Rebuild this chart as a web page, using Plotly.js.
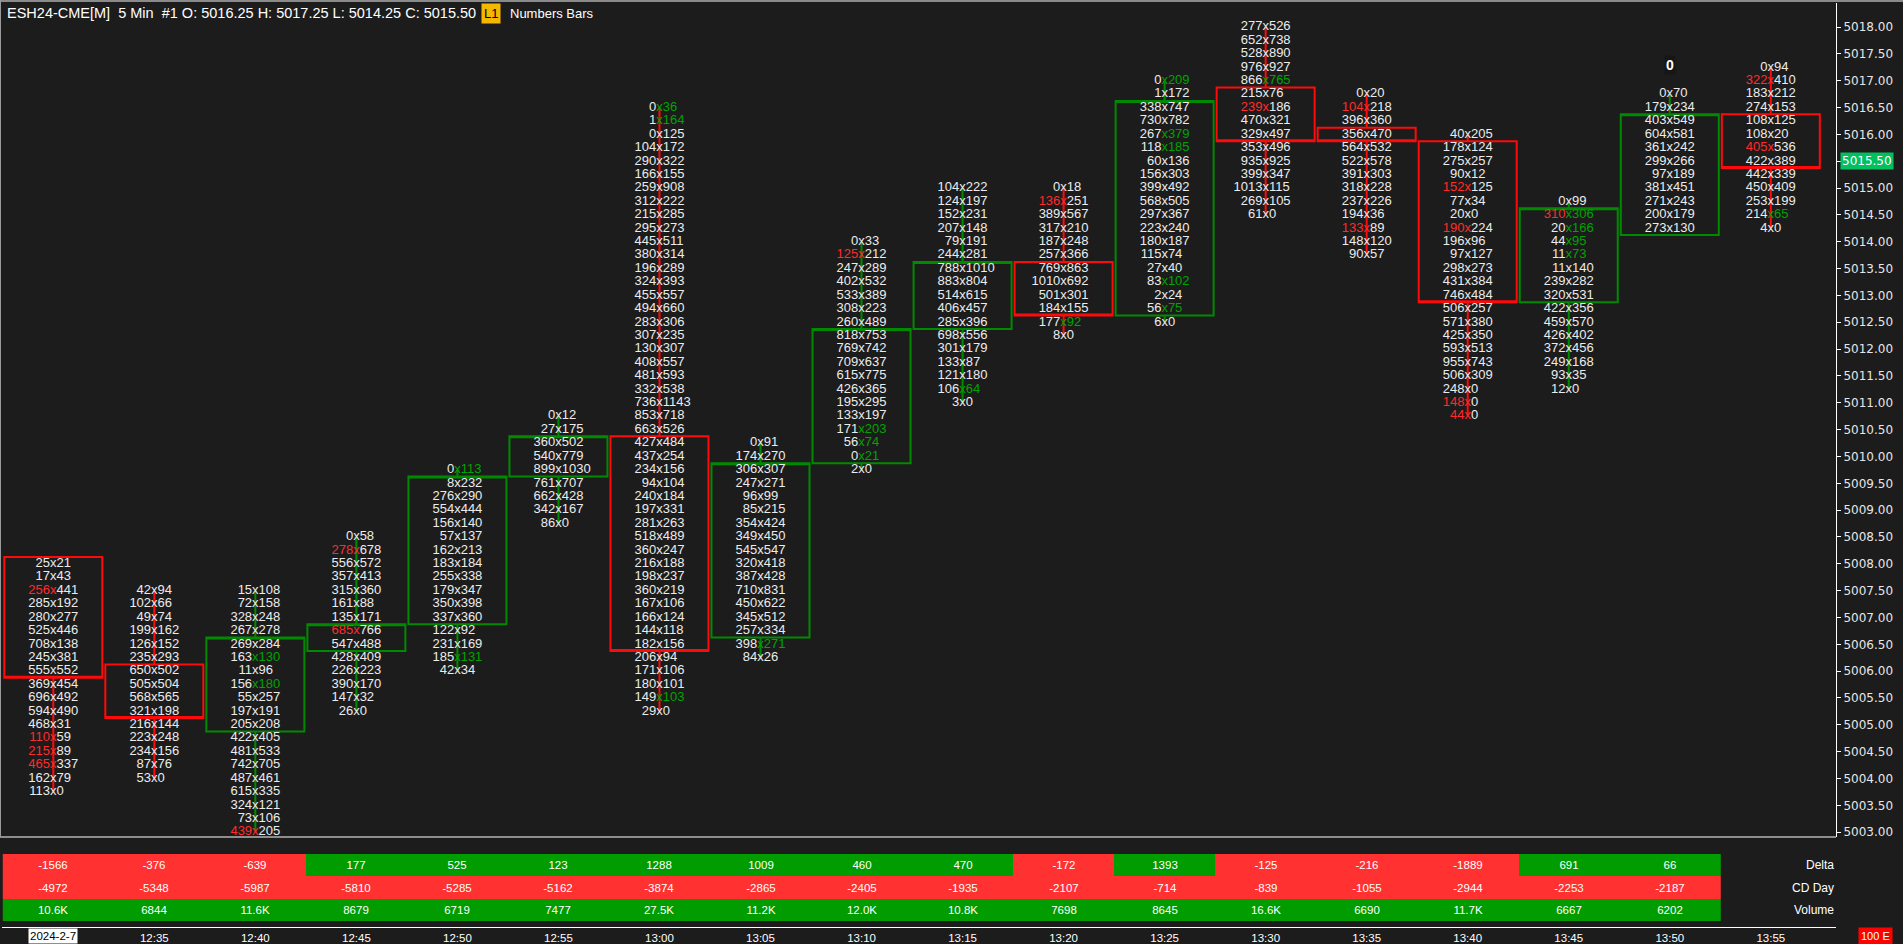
<!DOCTYPE html>
<html><head><meta charset="utf-8">
<script src="https://cdn.plot.ly/plotly-3.0.1.min.js"></script>
<style>html,body{margin:0;padding:0;background:#1c1c1c;overflow:hidden}</style>
</head><body><div id="chart" style="width:1903px;height:944px"></div>
<script>
// ---------------- DATA ----------------
const times  = ["2024-2-7","12:35","12:40","12:45","12:50","12:55","13:00","13:05","13:10","13:15","13:20","13:25","13:30","13:35","13:40","13:45","13:50","13:55"];
const opens  = [5008.00,5006.00,5005.00,5006.50,5007.00,5009.75,5010.25,5006.75,5010.00,5012.50,5013.50,5012.75,5016.75,5016.00,5015.75,5013.00,5014.25,5016.25];
const closes = [5006.00,5005.25,5006.50,5006.75,5009.50,5010.25,5006.50,5009.75,5012.25,5013.50,5012.75,5016.50,5016.00,5016.00,5013.00,5014.50,5016.25,5015.50];
const highs  = [5008.00,5007.50,5007.50,5008.50,5009.75,5010.75,5016.50,5010.25,5014.00,5015.00,5015.00,5017.00,5018.00,5016.75,5016.00,5014.75,5016.75,5017.25];
const lows   = [5003.75,5004.00,5003.00,5005.25,5006.00,5008.75,5005.25,5006.25,5009.75,5011.00,5012.25,5012.50,5014.50,5013.75,5010.75,5011.25,5014.25,5014.25];

// footprint rows, from the high down, one per 0.25 tick. flags: r = bid imbalance, g = ask imbalance, b = both
const bid0=[25,17,256,285,280,525,708,245,555,369,696,594,468,110,215,465,162,113];
const ask0=[21,43,441,192,277,446,138,381,552,454,492,490,31,59,89,337,79,0];
const flg0="..r..........rrr..";
const bid1=[42,102,49,199,126,235,650,505,568,321,216,223,234,87,53];
const ask1=[94,66,74,162,152,293,502,504,565,198,144,248,156,76,0];
const flg1="...............";
const bid2=[15,72,328,267,269,163,11,156,55,197,205,422,481,742,487,615,324,73,439];
const ask2=[108,158,248,278,284,130,96,180,257,191,208,405,533,705,461,335,121,106,205];
const flg2=".....g.g..........r";
const bid3=[0,278,556,357,315,161,135,685,547,428,226,390,147,26];
const ask3=[58,678,572,413,360,88,171,766,488,409,223,170,32,0];
const flg3=".r.....r......";
const bid4=[0,8,276,554,156,57,162,183,255,179,350,337,122,231,185,42];
const ask4=[113,232,290,444,140,137,213,184,338,347,398,360,92,169,131,34];
const flg4="g.............g.";
const bid5=[0,27,360,540,899,761,662,342,86];
const ask5=[12,175,502,779,1030,707,428,167,0];
const flg5=".........";
const bid6=[0,1,0,104,290,166,259,312,215,295,445,380,196,324,455,494,283,307,130,408,481,332,736,853,663,427,437,234,94,240,197,281,518,360,216,198,360,167,166,144,182,206,171,180,149,29];
const ask6=[36,164,125,172,322,155,908,222,285,273,511,314,289,393,557,660,306,235,307,557,593,538,1143,718,526,484,254,156,104,184,331,263,489,247,188,237,219,106,124,118,156,94,106,101,103,0];
const flg6="gg..........................................g.";
const bid7=[0,174,306,247,96,85,354,349,545,320,387,710,450,345,257,398,84];
const ask7=[91,270,307,271,99,215,424,450,547,418,428,831,622,512,334,271,26];
const flg7="...............g.";
const bid8=[0,125,247,402,533,308,260,818,769,709,615,426,195,133,171,56,0,2];
const ask8=[33,212,289,532,389,223,489,753,742,637,775,365,295,197,203,74,21,0];
const flg8=".r............ggg.";
const bid9=[104,124,152,207,79,244,788,883,514,406,285,698,301,133,121,106,3];
const ask9=[222,197,231,148,191,281,1010,804,615,457,396,556,179,87,180,64,0];
const flg9="...............g.";
const bid10=[0,136,389,317,187,257,769,1010,501,184,177,8];
const ask10=[18,251,567,210,248,366,863,692,301,155,92,0];
const flg10=".r........g.";
const bid11=[0,1,338,730,267,118,60,156,399,568,297,223,180,115,27,83,2,56,6];
const ask11=[209,172,747,782,379,185,136,303,492,505,367,240,187,74,40,102,24,75,0];
const flg11="g...gg.........g.g.";
const bid12=[277,652,528,976,866,215,239,470,329,353,935,399,1013,269,61];
const ask12=[526,738,890,927,765,76,186,321,497,496,925,347,115,105,0];
const flg12="....g.r........";
const bid13=[0,104,396,356,564,522,391,318,237,194,133,148,90];
const ask13=[20,218,360,470,532,578,303,228,226,36,89,120,57];
const flg13=".r........r..";
const bid14=[40,178,275,90,152,77,20,190,196,97,298,431,746,506,571,425,593,955,506,248,148,44];
const ask14=[205,124,257,12,125,34,0,224,96,127,273,384,484,257,380,350,513,743,309,0,0,0];
const flg14="....r..r............rr";
const bid15=[0,310,20,44,11,11,239,320,422,459,426,372,249,93,12];
const ask15=[99,306,166,95,73,140,282,531,356,570,402,456,168,35,0];
const flg15=".bggg..........";
const bid16=[0,179,403,604,361,299,97,381,271,200,273];
const ask16=[70,234,549,581,242,266,189,451,243,179,130];
const flg16="...........";
const bid17=[0,322,183,274,108,108,405,422,442,450,253,214,4];
const ask17=[94,410,212,153,125,20,536,389,339,409,199,65,0];
const flg17=".r....r....g.";

// study table
const deltaRow  = [-1566,-376,-639,177,525,123,1288,1009,460,470,-172,1393,-125,-216,-1889,691,66];
const cdDayRow  = [-4972,-5348,-5987,-5810,-5285,-5162,-3874,-2865,-2405,-1935,-2107,-714,-839,-1055,-2944,-2253,-2187];
const volumeRow = [10600,6844,11600,8679,6719,7477,27500,11200,12000,10800,7698,8645,16600,6690,11700,6667,6202];
const tableLabels = ["Volume","CD Day","Delta"];

const headerText = "ESH24-CME[M]  5 Min  #1 O: 5016.25 H: 5017.25 L: 5014.25 C: 5015.50";
const lastPrice = 5015.50;
const tick = 0.25;

// ---------------- STYLE / GEOMETRY ----------------
const W = 1903, H = 944;
const BG = '#1c1c1c';
const TXT = '#ececec', RED_TXT = '#ff2b2b', GRN_TXT = '#00a300';
const UP = '#008a00', DN = '#ff0a0a';
const CELL_RED = '#ff3131', CELL_GRN = '#009c00';
const PL = 2, PR = 1836;           // plot left / right (px)
const C0 = 53.3, STEP = 101.03;    // bar centre px / bar spacing px
const x0 = (PL - C0) / STEP, x1 = (PR - C0) / STEP;
const px = v => v / STEP;          // px -> x data units
const FONT = 'Liberation Sans, Arial, sans-serif';

const bids = [bid0,bid1,bid2,bid3,bid4,bid5,bid6,bid7,bid8,bid9,bid10,bid11,bid12,bid13,bid14,bid15,bid16,bid17];
const asks = [ask0,ask1,ask2,ask3,ask4,ask5,ask6,ask7,ask8,ask9,ask10,ask11,ask12,ask13,ask14,ask15,ask16,ask17];
const flgs = [flg0,flg1,flg2,flg3,flg4,flg5,flg6,flg7,flg8,flg9,flg10,flg11,flg12,flg13,flg14,flg15,flg16,flg17];

// ---------------- TRACES ----------------
const bx=[],by=[],bt=[],bc=[], ax=[],ay=[],at=[],ac=[];
const half = px(3.25);
bids.forEach((col,i)=>{
  col.forEach((b,j)=>{
    const p = highs[i] - j*tick;
    const f = flgs[i][j];
    bx.push(i - half); by.push(p); bt.push(String(b));
    bc.push((f==='r'||f==='b') ? RED_TXT : TXT);
    ax.push(i - half); ay.push(p);
    if (f==='g'||f==='b') { at.push('x'+asks[i][j]); ac.push(GRN_TXT); }
    else if (f==='r') { at.push('<span style="color:'+RED_TXT+'">x</span>'+asks[i][j]); ac.push(TXT); }
    else { at.push('x'+asks[i][j]); ac.push(TXT); }
  });
});

const idx = times.map((t,i)=>i);
const isUp = opens.map((o,i)=>closes[i] > o);
const bodyTop = opens.map((o,i)=>Math.max(o,closes[i]) + tick/2);
const bodyBot = opens.map((o,i)=>Math.min(o,closes[i]) - tick/2);

const candles = {
  type:'candlestick', x: idx,
  open:  idx.map(i=> isUp[i] ? bodyBot[i] : bodyTop[i]),
  close: idx.map(i=> isUp[i] ? bodyTop[i] : bodyBot[i]),
  high:  idx.map(i=> Math.max(highs[i], bodyTop[i])),
  low:   idx.map(i=> Math.min(lows[i], bodyBot[i])),
  increasing:{line:{color:UP,width:2}, fillcolor:'rgba(0,0,0,0)'},
  decreasing:{line:{color:DN,width:2}, fillcolor:'rgba(0,0,0,0)'},
  whiskerwidth:0, hoverinfo:'skip', xaxis:'x', yaxis:'y'
};

const bidTrace = {type:'scatter', mode:'text', x:bx, y:by, text:bt, textposition:'middle left',
  textfont:{family:FONT, size:13, color:bc}, hoverinfo:'skip', cliponaxis:true};
const askTrace = {type:'scatter', mode:'text', x:ax, y:ay, text:at, textposition:'middle right',
  textfont:{family:FONT, size:13, color:ac}, hoverinfo:'skip', cliponaxis:true};

const fmtVol = v => v >= 10000 ? (v/1000).toFixed(1)+'K' : String(v);
const tableX = deltaRow.map((d,i)=>i);
const heat = {
  type:'heatmap', x:tableX, y:[0,1,2], xaxis:'x', yaxis:'y2',
  z:[volumeRow.map(()=>1), cdDayRow.map(v=>v>0?1:0), deltaRow.map(v=>v>0?1:0)],
  text:[volumeRow.map(fmtVol), cdDayRow.map(String), deltaRow.map(String)],
  texttemplate:'%{text}', textfont:{family:FONT, size:11.5, color:'#ffffff'},
  colorscale:[[0,CELL_RED],[1,CELL_GRN]], zmin:0, zmax:1, showscale:false, hoverinfo:'skip'
};

// ---------------- LAYOUT ----------------
const yTop = 5018 + (27.1-3)/53.67, yBot = 5018 - (837-27.1)/53.67;
const HY = 1-13/H;
const annotations = [
  {xref:'paper', yref:'paper', x:5/W, y:HY, xanchor:'left', yanchor:'middle', showarrow:false,
   text:headerText, font:{family:FONT, size:14.5, color:'#ffffff'}},
  {xref:'paper', yref:'paper', x:481/W, y:HY, xanchor:'left', yanchor:'middle', showarrow:false,
   text:'L1', bgcolor:'#f5b800', borderpad:2, font:{family:FONT, size:13, color:'#000000'}},
  {xref:'paper', yref:'paper', x:508/W, y:HY, xanchor:'left', yanchor:'middle', showarrow:false,
   text:'Numbers Bars', font:{family:FONT, size:13, color:'#ffffff'}},
  {xref:'x', yref:'y', x:16, y:5017.3, showarrow:false, text:'<b>0</b>', bgcolor:'#161616',
   font:{family:FONT, size:14, color:'#ffffff'}},
  {xref:'paper', yref:'y', x:1840/W, y:lastPrice, xanchor:'left', yanchor:'middle', showarrow:false,
   text:lastPrice.toFixed(2), bgcolor:'#00c060', borderpad:1, font:{family:'DejaVu Sans, sans-serif', size:12, color:'#ffffff'}},
  {xref:'x', yref:'paper', x:0, y:1-936/H, yanchor:'middle', showarrow:false, text:times[0],
   bgcolor:'#ffffff', borderpad:1, font:{family:FONT, size:11.5, color:'#000000'}},
  {xref:'paper', yref:'paper', x:1858/W, y:1-936/H, xanchor:'left', yanchor:'middle', showarrow:false,
   text:'100 E', bgcolor:'#ff0000', borderpad:2, font:{family:FONT, size:11, color:'#ffffff'}}
];
tableLabels.forEach((t,k)=>annotations.push({xref:'paper', yref:'y2', x:1836/W, y:k, xanchor:'right',
  yanchor:'middle', showarrow:false, text:t, font:{family:FONT, size:12, color:'#ffffff'}}));

const layout = {
  width:W, height:H, paper_bgcolor:BG, plot_bgcolor:BG,
  margin:{l:0,r:0,t:0,b:0}, showlegend:false, boxgap:0.03, boxgroupgap:0,
  xaxis:{domain:[PL/W, PR/W], range:[x0,x1], anchor:'free', position:1-927/H,
    showline:true, linecolor:'#ffffff', linewidth:1, showgrid:false, zeroline:false,
    tickvals:idx.slice(1), ticktext:times.slice(1), ticks:'', automargin:false,
    tickfont:{family:FONT, size:11.5, color:'#ffffff'}, rangeslider:{visible:false}, fixedrange:true},
  yaxis:{domain:[1-837/H, 1-3/H], range:[yBot,yTop], side:'right', anchor:'x',
    showline:true, linecolor:'#ffffff', linewidth:1, showgrid:false, zeroline:false,
    ticks:'outside', ticklen:4, tickcolor:'#ffffff', tick0:5003, dtick:0.5, tickformat:'.2f',
    tickfont:{family:'DejaVu Sans, sans-serif', size:12, color:'#e6e6e6'}, automargin:false, fixedrange:true},
  yaxis2:{domain:[1-921/H, 1-854/H], range:[-0.5,2.5], anchor:'x', visible:false, fixedrange:true},
  shapes:[
    {type:'line', xref:'paper', yref:'paper', x0:0, x1:PR/W, y0:1-837/H, y1:1-837/H, line:{color:'#ffffff', width:1}},
    {type:'line', xref:'paper', yref:'paper', x0:0, x1:1, y0:1-1/H, y1:1-1/H, line:{color:'#8a8a8a', width:2}},
    {type:'line', xref:'paper', yref:'paper', x0:0.5/W, x1:0.5/W, y0:1-837/H, y1:1, line:{color:'#9a9a9a', width:1}}
  ],
  annotations
};

Plotly.newPlot('chart', [heat, candles, bidTrace, askTrace], layout, {displayModeBar:false, staticPlot:true});
</script></body></html>
